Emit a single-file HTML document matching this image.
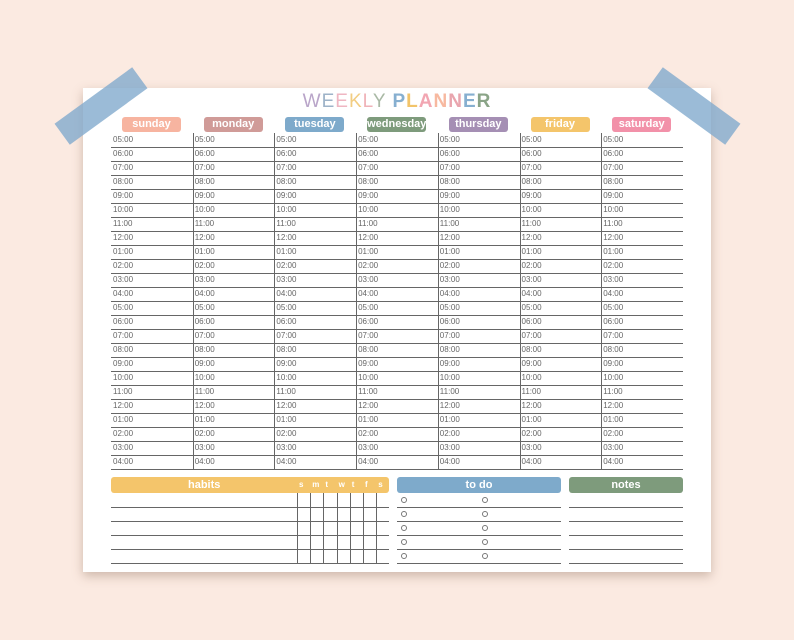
<!DOCTYPE html>
<html><head><meta charset="utf-8"><style>
body{margin:0;width:794px;height:640px;background:#fbeae1;position:relative;overflow:hidden;font-family:"Liberation Sans",sans-serif}
#paper{position:absolute;left:83px;top:88px;width:628px;height:484px;background:#fff;box-shadow:0 4px 10px rgba(120,90,70,.35)}
.abs{position:absolute}
.pill{position:absolute;height:15px;border-radius:3px;color:#fff;font-size:11px;font-weight:bold;text-align:center;line-height:15px}
.t{position:absolute;font-size:8px;color:#666;line-height:14px}
.hl{position:absolute;height:1px;background:#666}
.vl{position:absolute;width:1px;background:#666}
.tape{position:absolute;width:96px;height:26px;background:rgba(130,170,205,.8)}
#title{position:absolute;left:0;width:794px;top:91px;text-align:center;font-size:19px;letter-spacing:1px}
</style></head><body>
<div id="paper"></div>
<div id="title"><span style="color:#b9a5c9">W</span><span style="color:#9eb3c8">E</span><span style="color:#efb6c2">E</span><span style="color:#f2cd82">K</span><span style="color:#efb2b8">L</span><span style="color:#a9b9a5">Y</span> <b><span style="color:#86afd0">P</span><span style="color:#f2c46a">L</span><span style="color:#f2a6b2">A</span><span style="color:#f7b9a0">N</span><span style="color:#e9a5ae">N</span><span style="color:#86afd0">E</span><span style="color:#8aa487">R</span></b></div>
<div class="tape" style="left:53px;top:93px;transform:rotate(-36deg)"></div>
<div class="tape" style="left:646px;top:93px;transform:rotate(36deg)"></div>
<div id="grid"></div>
<script>
const days=["sunday","monday","tuesday","wednesday","thursday","friday","saturday"];
const dayColors=["#f7b4a0","#d09b98","#7eaacb","#7e9b7c","#a58fb4","#f4c56b","#f291a9"];
const hours=["05:00","06:00","07:00","08:00","09:00","10:00","11:00","12:00","01:00","02:00","03:00","04:00","05:00","06:00","07:00","08:00","09:00","10:00","11:00","12:00","01:00","02:00","03:00","04:00"];
const habitDays=["s","m","t","w","t","f","s"];
const g=document.getElementById('grid');
function mk(cls,st,txt){const e=document.createElement('div');e.className=cls;Object.assign(e.style,st);if(txt!==undefined)e.textContent=txt;g.appendChild(e);return e;}
const x0=111,cw=81.7,y0=133,rh=14;
days.forEach((d,i)=>{
 const p=mk('pill',{left:(x0+11+i*cw)+'px',top:'117px',width:'59px',background:dayColors[i]},d);
 
 
 if(i>0){const v=mk('vl',{left:(x0+i*cw)+'px',top:y0+'px',height:(hours.length*rh)+'px'});
 
 }
 hours.forEach((h,j)=>{
  const t=mk('t',{left:(x0+2+i*cw)+'px',top:(y0+j*rh)+'px'},h);
  
  
 });
});
hours.forEach((h,j)=>{const l=mk('hl',{left:x0+'px',top:(y0+14+j*rh)+'px',width:'572px'});
 
 });
const secs=[["habits",111,278,"#f4c56b"],["to do",397,164,"#7eaacb"],["notes",569,114,"#7e9b7c"]];
secs.forEach(s=>{
 const p=mk('pill',{left:s[1]+'px',top:'477px',width:s[2]+'px',height:'16px',lineHeight:'16px',background:s[3],textAlign:s[0]=="habits"?'left':'center',textIndent:s[0]=="habits"?'77px':'0'},s[0]);
 
 
 for(let k=0;k<5;k++){const l=mk('hl',{left:s[1]+'px',top:(507+k*14)+'px',width:s[2]+'px'});
  
  }
});
habitDays.forEach((d,i)=>{
 const t=mk('t',{left:(299+i*13.2)+'px',top:'478px',color:'#fff',fontWeight:'bold',fontSize:'8px'},d);
 
 
 const v=mk('vl',{left:(297+i*13.2)+'px',top:'493px',height:'70px'});
 
 
});
for(let k=0;k<5;k++){[401,482].forEach(x=>{
 const c=mk('abs',{left:x+'px',top:(497+k*14)+'px',width:'4px',height:'4px',border:'1px solid #777',borderRadius:'50%'});
 
 });}
</script>
</body></html>
